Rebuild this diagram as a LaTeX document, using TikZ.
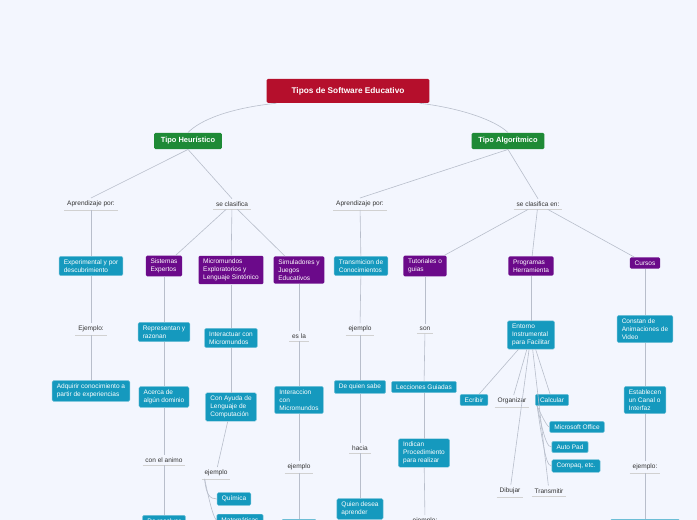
\documentclass[tikz,border=0pt]{standalone}
\usepackage{fontspec}
\setmainfont{Liberation Sans}
\begin{document}
\begin{tikzpicture}[x=0.75pt,y=-0.75pt,
  every node/.style={font=\fontsize{4.9}{5.9}\selectfont},
  tbox/.style={fill=boxT,text=white,rounded corners=1pt,align=left,inner xsep=3.5pt,inner ysep=2.5pt,draw=boxT!60!white,line width=0.3pt},
  pbox/.style={fill=boxP,text=white,rounded corners=1pt,align=left,inner xsep=3.5pt,inner ysep=2.5pt},
  gbox/.style={fill=boxG,text=white,rounded corners=1pt,inner xsep=5pt,inner ysep=3.5pt,font=\fontsize{5.6}{6.6}\selectfont\bfseries},
  lbl/.style={text=black!80,inner sep=2pt,append after command={(\tikzlastnode.south west) edge[uline] (\tikzlastnode.south east)}},
  uline/.style={draw=black!18,line width=0.5pt},
  con/.style={draw=conC,line width=0.45pt}]
\definecolor{boxT}{HTML}{1599BE}
\definecolor{boxP}{HTML}{6B0A8A}
\definecolor{boxG}{HTML}{1E8A36}
\definecolor{boxR}{HTML}{B50F2C}
\definecolor{conC}{HTML}{B8BECB}
\useasboundingbox (0,0) rectangle (697,520);
\fill[color={rgb,255:red,243;green,246;blue,254}] (0,0) rectangle (697,520);

\node[fill=boxR,text=white,rounded corners=1pt,minimum width=122pt,minimum height=18pt,font=\fontsize{6.2}{7}\selectfont\bfseries] (root) at (348,91) {Tipos de Software Educativo};
\node[gbox] (heu) at (188,141) {Tipo Heurístico};
\node[gbox] (alg) at (508,141) {Tipo Algorítmico};

\node[lbl] (ap1) at (91,204) {Aprendizaje por:};
\node[lbl] (sc1) at (232,204) {se clasifica};
\node[lbl] (ap2) at (360,204) {Aprendizaje por:};
\node[lbl] (sc2) at (538,204) {se clasifica en:};

% left branch
\node[tbox] (exp) at (91,266) {Experimental y por\\descubrimiento};
\node[lbl] (ej1) at (91,329) {Ejemplo:};
\node[tbox] (adq) at (91,391) {Adquirir conocimiento a\\partir de experiencias};
\node[pbox] (sis) at (164,266) {Sistemas\\Expertos};
\node[tbox] (rep) at (164,332) {Representan y\\razonan};
\node[tbox] (ace) at (164,397) {Acerca de\\algún dominio};
\node[lbl] (ani) at (164,460) {con el animo};
\node[tbox] (res) at (164,521) {De resolver};
\node[pbox] (mic) at (231,270) {Micromundos\\Exploratorios y\\Lenguaje Sintónico};
\node[tbox] (int) at (231,338) {Interactuar con\\Micromundos};
\node[tbox] (con) at (231,407) {Con Ayuda de\\Lenguaje de\\Computación};
\node[lbl] (ej2) at (216,473) {ejemplo};
\node[tbox] (qui) at (234,499) {Química};
\node[tbox] (mat) at (240,520) {Matemáticas};
\node[pbox] (sim) at (299,270) {Simuladores y\\Juegos\\Educativos};
\node[lbl] (esl) at (299,336) {es la};
\node[tbox] (inm) at (299,400) {Interaccion\\con\\Micromundos};
\node[lbl] (ej3) at (299,467) {ejemplo};
\node[tbox,minimum width=26pt,minimum height=10pt] (b3) at (299,526) {};

% right branch
\node[tbox] (tra) at (361,266) {Transmicion de\\Conocimientos};
\node[lbl] (ej4) at (360,329) {ejemplo};
\node[tbox] (dqs) at (360,387) {De quien sabe};
\node[lbl] (hac) at (360,448) {hacia};
\node[tbox] (qda) at (360,509) {Quien desea\\aprender};
\node[pbox] (tut) at (425,266) {Tutoriales o\\guias};
\node[lbl] (son) at (425,329) {son};
\node[tbox] (lec) at (424,387) {Lecciones Guiadas};
\node[tbox] (ind) at (424,453) {Indican\\Procedimiento\\para realizar};
\node[lbl] (ej5) at (425,521) {ejemplo:};
\node[pbox] (pro) at (531,266) {Programas\\Herramienta};
\node[tbox] (ent) at (531,335) {Entorno\\Instrumental\\para Facilitar};
\node[tbox] (ecr) at (474,400) {Ecribir};
\node[lbl] (org) at (512,401) {Organizar};
\node[tbox] (cal) at (552,400) {Calcular};
\node[tbox] (mso) at (577,427) {Microsoft Office};
\node[tbox] (aut) at (570,447) {Auto Pad};
\node[tbox] (cmp) at (576,466) {Compaq, etc.};
\node[lbl] (dib) at (510,491) {Dibujar};
\node[lbl] (trm) at (549,491) {Transmitir};
\node[pbox] (cur) at (645,263) {Cursos};
\node[tbox] (cst) at (645,329) {Constan de\\Animaciones de\\Video};
\node[tbox] (est) at (645,400) {Establecen\\un Canal o\\Interfaz};
\node[lbl] (ej6) at (645,467) {ejemplo:};
\node[tbox,minimum width=52pt,minimum height=10pt] (b6) at (645,526) {};

% connectors
\draw[con] (root.south west) ++(10,0) .. controls (230,108) and (200,120) .. (heu.north);
\draw[con] (root.south east) ++(-10,0) .. controls (460,108) and (495,120) .. (alg.north);
\draw[con] (heu.south) -- (ap1.north);
\draw[con] (heu.south) -- (sc1.north);
\draw[con] (alg.south) -- (ap2.north);
\draw[con] (alg.south) -- (sc2.north);
\foreach \a/\b in {ap1/exp,exp/ej1,ej1/adq,sc1/sis,sc1/mic,sc1/sim,sis/rep,rep/ace,ace/ani,ani/res,
  mic/int,int/con,con/ej2,sim/esl,esl/inm,inm/ej3,ej3/b3,
  ap2/tra,tra/ej4,ej4/dqs,dqs/hac,hac/qda,sc2/tut,sc2/pro,sc2/cur,tut/son,son/lec,lec/ind,ind/ej5,
  pro/ent,ent/ecr,ent/org,ent/cal,ent/dib,ent/trm,cur/cst,cst/est,est/ej6,ej6/b6}
  \draw[con] (\a) -- (\b);
\draw[con] (ej2.south west) ++(3,0) .. controls (206,495) and (210,499) .. (qui.west);
\draw[con] (ej2.south west) ++(3,0) .. controls (210,505) and (214,519) .. (mat.west);
\draw[con] (cal.south west) ++(2,0) .. controls (545,423) and (548,427) .. (mso.west);
\draw[con] (cal.south west) ++(2,0) .. controls (545,443) and (548,447) .. (aut.west);
\draw[con] (cal.south west) ++(2,0) .. controls (545,462) and (548,466) .. (cmp.west);
\end{tikzpicture}
\end{document}
